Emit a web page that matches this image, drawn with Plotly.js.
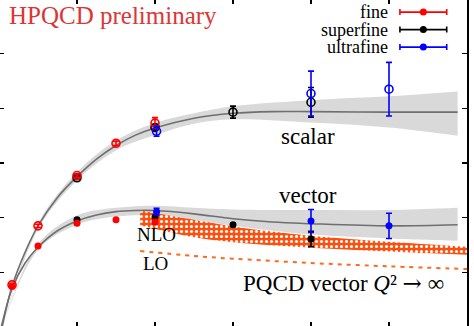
<!DOCTYPE html>
<html>
<head>
<meta charset="utf-8">
<script src="https://cdn.plot.ly/plotly-3.0.1.min.js"></script>
<style>
html,body{margin:0;padding:0;background:#fff;overflow:hidden;}
#chart{position:absolute;left:-2px;top:-2px;width:480px;height:332px;}
</style>
</head>
<body>
<div id="chart"></div>
<script>
// ---------- data ----------
// scalar form factor points
const scalarFineX = [0.167, 0.5, 1.0, 1.5, 2.0];
const scalarFineY = [0.77, 1.85, 2.77, 3.36, 3.73];
const scalarFineErr = [0.03, 0.03, 0.03, 0.04, 0.10];

const scalarSuperX = [1.0, 2.0, 3.0, 4.0];
const scalarSuperY = [2.73, 3.65, 3.93, 4.11];
const scalarSuperErr = [0.03, 0.05, 0.11, 0.27];

const scalarUltraX = [2.02, 4.0, 5.0];
const scalarUltraY = [3.58, 4.27, 4.35];
const scalarUltraErr = [0.09, 0.41, 0.49];

// vector form factor points
const vectorFineX = [0.167, 0.5, 1.0, 1.5, 2.0];
const vectorFineY = [0.74, 1.48, 1.90, 1.96, 1.92];
const vectorFineErr = [0.02, 0.02, 0.02, 0.02, 0.03];

const vectorSuperX = [1.0, 2.0, 3.0, 4.0];
const vectorSuperY = [1.96, 2.01, 1.87, 1.61];
const vectorSuperErr = [0.03, 0.03, 0.03, 0.14];

const vectorUltraX = [2.02, 4.0, 5.0];
const vectorUltraY = [2.11, 1.94, 1.85];
const vectorUltraErr = [0.06, 0.21, 0.23];

// fit curves
const scalarCurveX = [0.04, 0.167, 0.335, 0.5, 0.75, 1.0, 1.25, 1.5, 1.75, 2.0, 2.5, 3.0, 3.5, 4.0, 5.0, 5.88];
const scalarCurveY = [0.0, 0.74, 1.37, 1.85, 2.37, 2.75, 3.07, 3.32, 3.51, 3.64, 3.82, 3.91, 3.94, 3.94, 3.93, 3.93];
const vectorCurveX = [0.03, 0.167, 0.335, 0.5, 0.75, 1.0, 1.25, 1.5, 1.75, 2.0, 2.5, 3.0, 3.5, 4.0, 5.0, 5.88];
const vectorCurveY = [0.0, 0.70, 1.17, 1.46, 1.76, 1.94, 2.05, 2.11, 2.13, 2.13, 2.07, 1.98, 1.92, 1.89, 1.85, 1.87];

// error bands of fits
const bandX = [0.04, 0.5, 1.0, 1.5, 2.0, 2.5, 3.0, 4.0, 5.0, 5.88];
const scalarBandHi = [0.0, 1.89, 2.83, 3.41, 3.73, 3.91, 4.04, 4.15, 4.22, 4.31];
const scalarBandLo = [0.0, 1.79, 2.68, 3.23, 3.51, 3.72, 3.80, 3.74, 3.65, 3.50];
const vectorBandHi = [0.0, 1.52, 2.04, 2.18, 2.22, 2.18, 2.15, 2.14, 2.14, 2.18];
const vectorBandLo = [0.0, 1.41, 1.87, 2.02, 2.04, 1.96, 1.85, 1.69, 1.62, 1.58];

// perturbative QCD (Q^2 -> infinity)
const nloX = [1.81, 2.5, 3.0, 4.0, 5.0, 6.0];
const nloHi = [2.13, 1.96, 1.84, 1.67, 1.56, 1.47];
const nloLo = [1.86, 1.64, 1.55, 1.45, 1.38, 1.32];
const loX = [1.81, 2.5, 3.0, 4.0, 5.0, 6.0];
const loY = [1.39, 1.30, 1.25, 1.17, 1.11, 1.06];

const legendNames = ['fine', 'superfine', 'ultrafine'];
const legendColors = ['#ff0000', '#000000', '#0000ff'];

// ---------- traces ----------
const serif = 'Liberation Serif';
const bandGray = '#d9d9d9';
const curveGray = '#6f6f6f';
const orange = '#ff4f0f';

const traces = [];
function band(x, lo, hi, fillcolor, pattern) {
  traces.push({x: x, y: lo, mode: 'lines', line: {width: 0, shape: 'spline'}, hoverinfo: 'skip', showlegend: false});
  const t = {x: x, y: hi, mode: 'lines', line: {width: 0, shape: 'spline'}, fill: 'tonexty', fillcolor: fillcolor, hoverinfo: 'skip', showlegend: false};
  if (pattern) t.fillpattern = pattern;
  traces.push(t);
}
band(bandX, scalarBandLo, scalarBandHi, bandGray);
band(bandX, vectorBandLo, vectorBandHi, bandGray);
band(nloX, nloLo, nloHi, orange, {shape: '.', bgcolor: orange, fgcolor: '#ffffff', fgopacity: 1, size: 5, solidity: 0.3});

traces.push({x: scalarCurveX, y: scalarCurveY, mode: 'lines', line: {color: curveGray, width: 1.6, shape: 'spline'}, showlegend: false});
traces.push({x: vectorCurveX, y: vectorCurveY, mode: 'lines', line: {color: curveGray, width: 1.6, shape: 'spline'}, showlegend: false});
traces.push({x: loX, y: loY, mode: 'lines', line: {color: '#ff6a1a', width: 2, dash: '4px,5px', shape: 'spline'}, showlegend: false});

function pts(x, y, e, color, open) {
  traces.push({
    x: x, y: y, mode: 'markers', showlegend: false,
    error_y: {type: 'data', array: e, visible: true, color: color, thickness: 1.6, width: 3},
    marker: open ? {symbol: 'circle-open', size: 8, color: color, line: {width: 1.6, color: color}}
                 : {symbol: 'circle', size: 7, color: color}
  });
}
pts(scalarSuperX, scalarSuperY, scalarSuperErr, legendColors[1], true);
pts(scalarFineX, scalarFineY, scalarFineErr, legendColors[0], true);
pts(scalarUltraX, scalarUltraY, scalarUltraErr, legendColors[2], true);
pts(vectorSuperX, vectorSuperY, vectorSuperErr, legendColors[1], false);
pts(vectorFineX, vectorFineY, vectorFineErr, legendColors[0], false);
pts(vectorUltraX, vectorUltraY, vectorUltraErr, legendColors[2], false);

// manual legend (text left of symbol)
const legX = 5.44, legHalf = 0.30, legY0 = 5.76, legDy = 0.32;
const annotations = [];
legendNames.forEach((n, i) => {
  const yy = legY0 - i * legDy;
  traces.push({x: [legX], y: [yy], mode: 'markers', showlegend: false,
    marker: {symbol: 'circle', size: 7, color: legendColors[i]},
    error_x: {type: 'data', array: [legHalf], visible: true, color: legendColors[i], thickness: 1.6, width: 3}});
  annotations.push({x: 5.01, y: yy, xref: 'x', yref: 'y', text: n, showarrow: false,
    xanchor: 'right', yanchor: 'middle', font: {family: serif, size: 18, color: '#000'}});
});

function label(text, x, y, size, color, anchor) {
  annotations.push({x: x, y: y, xref: 'x', yref: 'y', text: text, showarrow: false,
    xanchor: anchor || 'center', yanchor: 'middle', font: {family: serif, size: size, color: color || '#000'}});
}
label('HPQCD preliminary', 0.10, 5.70, 25, '#dd3535', 'left');
label('scalar', 3.96, 3.48, 23);
label('vector', 3.96, 2.41, 23);
label('NLO', 2.02, 1.70, 19);
label('LO', 2.0, 1.17, 19);
label('PQCD vector <i>Q</i>² <span style="font-family:DejaVu Serif">→</span> ∞', 4.42, 0.80, 23);

const axis = {
  range: [0, 6], dtick: 1, tick0: 0, ticks: 'inside', ticklen: 5, tickwidth: 1.2, tickcolor: '#000',
  showticklabels: false, showgrid: false, zeroline: false,
  showline: true, linecolor: '#000', linewidth: 1.5, mirror: 'ticks', fixedrange: true
};

const layout = {
  width: 480, height: 332,
  margin: {l: 1, r: 11, t: 1, b: 3},
  paper_bgcolor: '#fff', plot_bgcolor: '#fff',
  showlegend: false,
  xaxis: Object.assign({}, axis),
  yaxis: Object.assign({}, axis),
  annotations: annotations
};

Plotly.newPlot('chart', traces, layout, {displayModeBar: false, staticPlot: true});
</script>
</body>
</html>
